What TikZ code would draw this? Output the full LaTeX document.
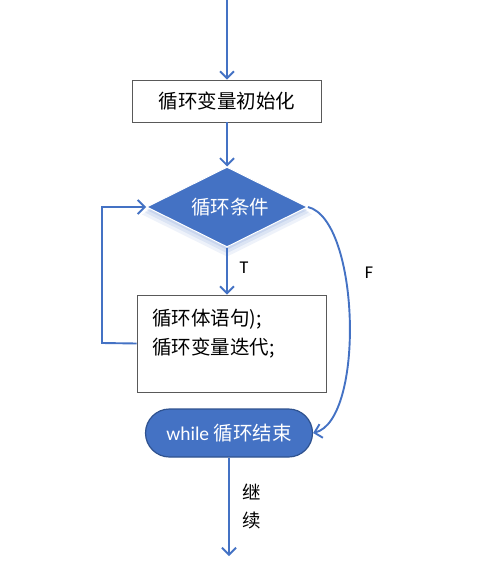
\documentclass[tikz,border=0pt]{standalone}
\usepackage{fontspec}
\setmainfont{Carlito}
\newfontfamily\cjk{Noto Sans CJK SC}
\usetikzlibrary{shapes.geometric,arrows.meta,shadows}
\definecolor{flowblue}{HTML}{4472C4}
\definecolor{edgeblue}{HTML}{2F528F}
\definecolor{boxgray}{HTML}{595959}

\tikzset{
  flow/.style={draw=flowblue, line width=1.9pt, -{Straight Barb[length=7pt,width=14pt,line width=1.9pt]}},
  plainbox/.style={draw=boxgray, line width=0.8pt, fill=white, font=\cjk\fontsize{19.5}{24}\selectfont},
  cond/.style={diamond, aspect=2, fill=flowblue, draw=white, line width=1pt, inner sep=0pt,
    minimum width=161pt, minimum height=80pt, text=white, font=\cjk\fontsize{19.5}{24}\selectfont,
    drop shadow={fill=flowblue!60, opacity=0.15, shadow xshift=0pt, shadow yshift=-7pt, shadow scale=1.06},
    drop shadow={fill=flowblue!60, opacity=0.2, shadow xshift=0pt, shadow yshift=-5pt, shadow scale=1.03},
    drop shadow={fill=flowblue!60, opacity=0.25, shadow xshift=0pt, shadow yshift=-3pt, shadow scale=1.0}},
  terminal/.style={rectangle, rounded corners=24pt, fill=flowblue, draw=edgeblue, line width=1.2pt,
    minimum width=167pt, minimum height=48pt, text=white, font=\fontsize{19.5}{24}\selectfont},
  tag/.style={font=\fontsize{18}{22}\selectfont},
}

\begin{document}
\begin{tikzpicture}[x=1pt, y=-1pt]

\useasboundingbox (0,0) rectangle (477,588);


\coordinate (start) at (227,0);
\node[plainbox, minimum width=189pt, minimum height=42pt] (init) at (227,101) {循环变量初始化};
\node[cond] (dia) at (227,207) {\hspace{6pt}循环条件};
\node[plainbox, minimum width=189pt, minimum height=97pt,
  label={[anchor=north west, align=left, xshift=12pt, yshift=-11pt, font=\cjk\fontsize{19.5}{29}\selectfont]north west:循环体语句);\\循环变量迭代;}] (body) at (231.5,343.5) {};
\node[terminal] (term) at (229,433) {while {\cjk 循环结束}};
\coordinate (back) at (102,343);
\coordinate (stop) at (229,556);


\draw[flow] (start) -- (init.north);
\draw[flow] (init.south) -- (dia.north);
\draw[flow] (dia.south) -- (dia.south |- body.north);
\draw[flow] (body.west) -- (back) |- (dia.west);
\draw[flow] (dia.east) .. controls (360,220) and (365,420) .. (term.east);
\draw[flow] (term.south) -- (stop);


\node[tag] (t) at (244,268) {T};
\node[tag] (f) at (369,273) {F};
\node[tag, font=\cjk\fontsize{18.5}{28}\selectfont, align=center] (go) at (252,506) {继\\续};


\end{tikzpicture}
\end{document}
